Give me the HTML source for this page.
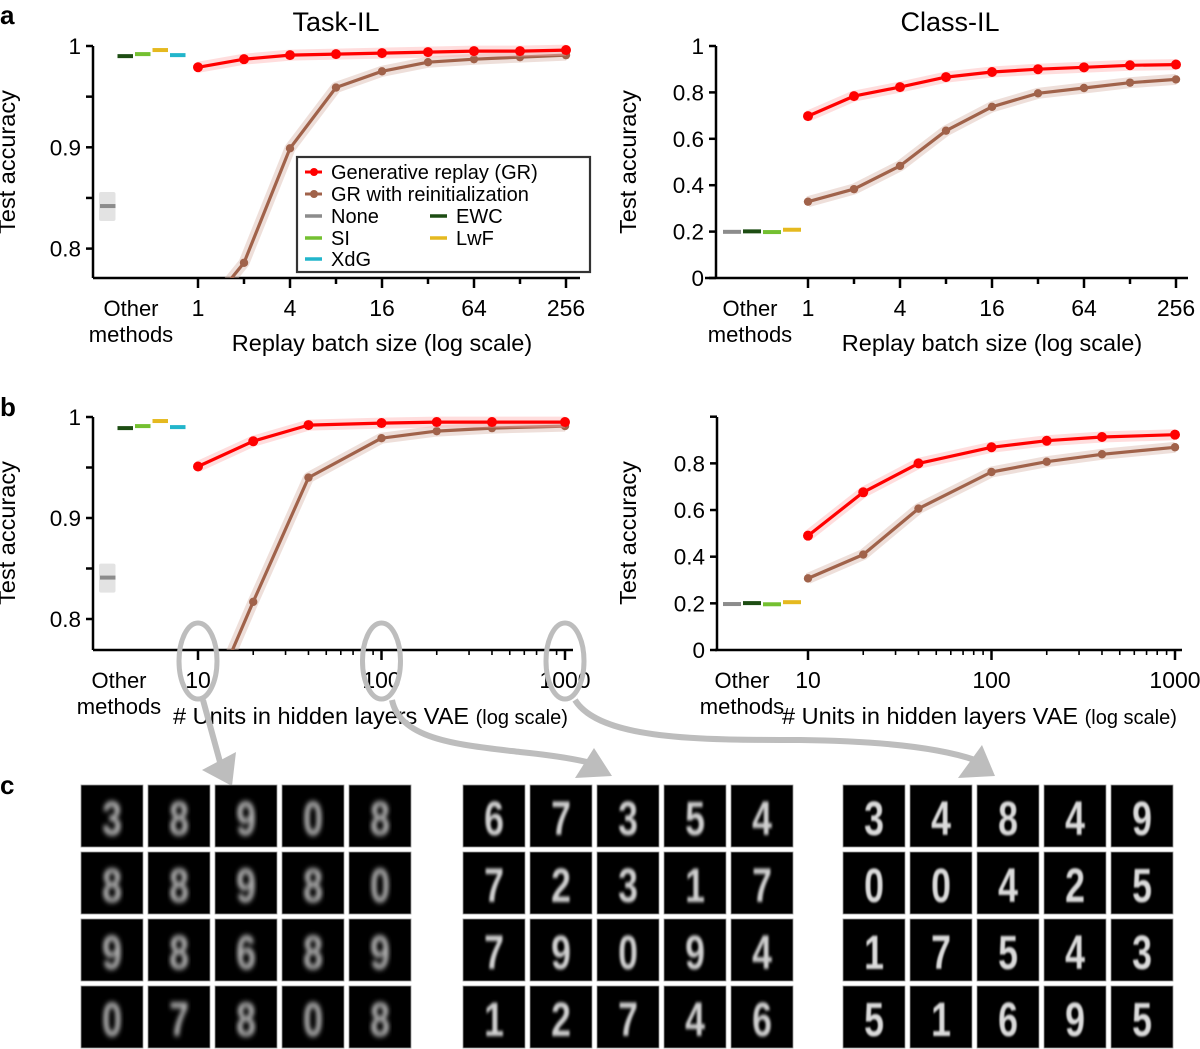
<!DOCTYPE html>
<html><head><meta charset="utf-8">
<style>
html,body{margin:0;padding:0;background:#fff;}
svg{display:block;font-family:"Liberation Sans",Arial,sans-serif;}
.digit{font-family:"Liberation Sans",sans-serif;fill:#e6e6e6;text-anchor:middle;}
</style></head>
<body>
<svg id="fig" width="1200" height="1049" viewBox="0 0 1200 1049" xmlns="http://www.w3.org/2000/svg">
<defs>
<clipPath id="clipAL"><rect x="93" y="0" width="500" height="278"/></clipPath>
<clipPath id="clipBL"><rect x="93" y="380" width="500" height="270"/></clipPath>
<filter id="blur1"><feGaussianBlur stdDeviation="2.4"/></filter>
<filter id="blur2"><feGaussianBlur stdDeviation="1.4"/></filter>
<filter id="blur3"><feGaussianBlur stdDeviation="1.0"/></filter>
</defs>
<g id="root"></g>
</svg>
<script>
// ---------- data ----------
const batchSizes = [1,2,4,8,16,32,64,128,256];
const unitCounts = [10,20,40,100,200,400,1000];
const taskGR = [0.979,0.987,0.991,0.992,0.993,0.994,0.995,0.995,0.996];
const taskGRreinit = [0.73,0.786,0.899,0.959,0.975,0.984,0.987,0.989,0.991];
const classGR = [0.698,0.784,0.823,0.866,0.888,0.90,0.908,0.917,0.92];
const classGRreinit = [0.329,0.383,0.483,0.635,0.738,0.796,0.819,0.842,0.856];
const taskUnitsGR = [0.951,0.976,0.992,0.994,0.995,0.995,0.995];
const taskUnitsReinit = [0.69,0.817,0.940,0.979,0.986,0.989,0.991];
const classUnitsGR = [0.49,0.676,0.80,0.869,0.897,0.913,0.923];
const classUnitsReinit = [0.307,0.409,0.606,0.763,0.807,0.839,0.869];
const otherNames = ["None","EWC","SI","LwF","XdG"];
const otherColors = ["#8c8c8c","#1d4d13","#74c031","#e5b91f","#22b5cb"];
const taskOtherA = [0.842,0.990,0.992,0.996,0.991];
const classOtherA = [0.199,0.201,0.198,0.208];
const taskOtherB = [0.841,0.989,0.991,0.996,0.990];
const classOtherB = [0.197,0.201,0.196,0.205];
const taskYTicks = [1,0.95,0.9,0.85,0.8];
const taskYLabels = ["1","","0.9","","0.8"];
const classYTicks = [0,0.2,0.4,0.6,0.8,1];
const classYLabelsA = ["0","0.2","0.4","0.6","0.8","1"];
const classYLabelsB = ["0","0.2","0.4","0.6","0.8",""];
const batchTickLabels = ["1","","4","","16","","64","","256"];
const unitTickValues = [10,100,1000];
const unitTickLabels = ["10","100","1000"];
const digitsG1 = ["3","8","9","0","8","8","8","9","8","0","9","8","6","8","9","0","7","8","0","8"];
const digitsG2 = ["6","7","3","5","4","7","2","3","1","7","7","9","0","9","4","1","2","7","4","6"];
const digitsG3 = ["3","4","8","4","9","0","0","4","2","5","1","7","5","4","3","5","1","6","9","5"];

// ---------- helpers ----------
const NS="http://www.w3.org/2000/svg";
const root=document.getElementById('root');
function mk(tag,attrs,parent,txt){const e=document.createElementNS(NS,tag);for(const k in attrs)e.setAttribute(k,attrs[k]);if(txt!==undefined)e.textContent=txt;(parent||root).appendChild(e);return e;}

const xA_L=v=>198+46*Math.log2(v);
const xA_R=v=>808+46*Math.log2(v);
const xB_L=v=>198+183.5*Math.log10(v/10);
const xB_R=v=>808+183.5*Math.log10(v/10);
const yA_L=v=>46+(1-v)*1013;
const yA_R=v=>278-v*232;
const yB_L=v=>417+(1-v)*1010;
const yB_R=v=>650-v*233.3;

function series(g,xs,ys,xf,yf,color,band,r,name,clip){
  const pts=xs.map((x,i)=>[xf(x),yf(ys[i])]);
  const d=pts.map((p,i)=>(i?'L':'M')+p[0].toFixed(1)+' '+p[1].toFixed(1)).join(' ');
  const sg=mk('g',clip?{'clip-path':'url(#'+clip+')'}:{},g);
  
  
  mk('path',{d:d,fill:'none',stroke:band,'stroke-width':11,'stroke-linejoin':'round','stroke-opacity':0.45},sg);
  mk('path',{d:d,fill:'none',stroke:color,'stroke-width':3.2,'stroke-linejoin':'round'},sg);
  pts.forEach(p=>{const c=mk('circle',{cx:p[0],cy:p[1],r:r,fill:color},sg);
    
    });
}

function others(g,vals,yf,x0,w,withBand){
  vals.forEach((v,i)=>{
    const x=x0+i*w;
    if(i===0&&withBand){const b=mk('rect',{x:x-1,y:yf(v)-14,width:w-1,height:29,fill:'#e3e3e3',rx:2},g);
      
      }
    const r=mk('rect',{x:x,y:yf(v)-2,width:w-2,height:4,fill:otherColors[i]},g);
    
    
  });
}

function yAxis(g,xSp,yTop,yBot,ticks,labels,yf,yTitleX,yTitleY){
  mk('line',{x1:xSp,y1:yTop,x2:xSp,y2:yBot,stroke:'#000','stroke-width':2.5},g);
  ticks.forEach((t,i)=>{
    mk('line',{x1:xSp-7,y1:yf(t),x2:xSp,y2:yf(t),stroke:'#000','stroke-width':2.5},g);
    if(labels[i]){const l=mk('text',{x:xSp-12,y:yf(t)+8,'font-size':22.5,'text-anchor':'end'},g,labels[i]);
      
      }
  });
  const t=mk('text',{x:yTitleX,y:yTitleY,'font-size':23.5,'text-anchor':'middle',transform:'rotate(-90 '+yTitleX+' '+yTitleY+')'},g,'Test accuracy');
  
  
}

function otherLabel(g,omX,yB){
  const om=mk('text',{x:omX,y:yB+38,'font-size':22,'text-anchor':'middle'},g);
  
  
  mk('tspan',{x:omX,dy:0},om,'Other');mk('tspan',{x:omX,dy:26},om,'methods');
}

function xAxisLog2(g,x0,x1,yB,xf,omX){
  mk('line',{x1:x0,y1:yB,x2:x1,y2:yB,stroke:'#000','stroke-width':2.5},g);
  batchSizes.forEach((v,i)=>{
    const major=batchTickLabels[i]!=="";
    mk('line',{x1:xf(v),y1:yB,x2:xf(v),y2:yB+(major?10:6),stroke:'#000','stroke-width':2.5},g);
    if(major){const l=mk('text',{x:xf(v),y:yB+38,'font-size':23,'text-anchor':'middle'},g,batchTickLabels[i]);
      
      }
  });
  otherLabel(g,omX,yB);
  const t=mk('text',{x:(xf(1)+xf(256))/2,y:yB+73,'font-size':23.5,'text-anchor':'middle'},g,'Replay batch size (log scale)');
  
  
}

function xAxisLog10(g,x0,x1,yB,xf,omX,titleX){
  mk('line',{x1:x0,y1:yB,x2:x1,y2:yB,stroke:'#000','stroke-width':2.5},g);
  [10,100].forEach(dec=>{for(let k=2;k<=9;k++){const v=dec*k;
    mk('line',{x1:xf(v),y1:yB,x2:xf(v),y2:yB+5,stroke:'#000','stroke-width':1.6},g);}});
  unitTickValues.forEach((v,i)=>{
    mk('line',{x1:xf(v),y1:yB,x2:xf(v),y2:yB+10,stroke:'#000','stroke-width':2.5},g);
    const l=mk('text',{x:xf(v),y:yB+38,'font-size':23,'text-anchor':'middle'},g,unitTickLabels[i]);
    
    
  });
  otherLabel(g,omX,yB);
  const t=mk('text',{x:titleX,y:yB+74,'font-size':23.5},g);
  
  
  mk('tspan',{},t,'# Units in hidden layers VAE ');
  mk('tspan',{'font-size':20},t,'(log scale)');
}

// ---------- panel a left ----------
let g=mk('g',{});


mk('text',{x:0,y:24,'font-size':26,'font-weight':'bold'},g,'a');
mk('text',{x:336,y:31,'font-size':27,'text-anchor':'middle'},g,'Task-IL');
yAxis(g,93,46,278,taskYTicks,taskYLabels,yA_L,15,162);
xAxisLog2(g,93,580,278,xA_L,131);
others(g,taskOtherA,yA_L,100,17.5,true);
series(g,batchSizes,taskGRreinit,xA_L,yA_L,'#a0624a','#d9b8ad',4.2,'gr-reinit-line','clipAL');
series(g,batchSizes,taskGR,xA_L,yA_L,'#ff0000','#ffb3b3',5,'gr-line','clipAL');
const lg=mk('g',{},g);


mk('rect',{x:297,y:157,width:293,height:115,fill:'#fff',stroke:'#333','stroke-width':2.2},lg);
const legItems=[[305,172,'#ff0000','Generative replay (GR)',true],[305,194,'#a0624a','GR with reinitialization',true],
 [305,216,'#8c8c8c','None',false],[305,238,'#74c031','SI',false],[305,259,'#22b5cb','XdG',false],
 [430,216,'#1d4d13','EWC',false],[430,238,'#e5b91f','LwF',false]];
legItems.forEach(it=>{
  const e=mk('g',{},lg);
  
  
  mk('line',{x1:it[0],y1:it[1],x2:it[0]+17,y2:it[1],stroke:it[2],'stroke-width':it[4]?3:3.5},e);
  if(it[4])mk('circle',{cx:it[0]+9,cy:it[1],r:4,fill:it[2]},e);
  mk('text',{x:it[0]+26,y:it[1]+7,'font-size':20},e,it[3]);
});

// ---------- panel a right ----------
g=mk('g',{});


mk('text',{x:950,y:31,'font-size':27,'text-anchor':'middle'},g,'Class-IL');
yAxis(g,716,46,278,classYTicks,classYLabelsA,yA_R,636,162);
xAxisLog2(g,705,1188,278,xA_R,750);
others(g,classOtherA,yA_R,723,20,false);
series(g,batchSizes,classGRreinit,xA_R,yA_R,'#a0624a','#d9b8ad',4.2,'gr-reinit-line');
series(g,batchSizes,classGR,xA_R,yA_R,'#ff0000','#ffb3b3',5,'gr-line');

// ---------- panel b left ----------
g=mk('g',{});


mk('text',{x:0,y:416,'font-size':26,'font-weight':'bold'},g,'b');
yAxis(g,93,417,650,taskYTicks,taskYLabels,yB_L,15,533);
xAxisLog10(g,93,573,650,xB_L,119,173);
others(g,taskOtherB,yB_L,100,17.5,true);
series(g,unitCounts,taskUnitsReinit,xB_L,yB_L,'#a0624a','#d9b8ad',4.2,'gr-reinit-line','clipBL');
series(g,unitCounts,taskUnitsGR,xB_L,yB_L,'#ff0000','#ffb3b3',5,'gr-line','clipBL');

// ---------- panel b right ----------
g=mk('g',{});


yAxis(g,717,417,650,classYTicks,classYLabelsB,yB_R,636,533);
xAxisLog10(g,715,1182,650,xB_R,742,782);
others(g,classOtherB,yB_R,723,20,false);
series(g,unitCounts,classUnitsReinit,xB_R,yB_R,'#a0624a','#d9b8ad',4.2,'gr-reinit-line');
series(g,unitCounts,classUnitsGR,xB_R,yB_R,'#ff0000','#ffb3b3',5,'gr-line');

// ---------- ellipses & arrows ----------
g=mk('g',{});


unitTickValues.forEach(v=>{
  const e=mk('ellipse',{cx:xB_L(v),cy:661,rx:19,ry:38,fill:'none',stroke:'#bdbdbd','stroke-width':5},g);
  
  
});
const arrows=[
 ['M203 700 L220 762',[232,786],[202,770],[236,752]],
 ['M392 700 C400 740 460 745 520 752 C560 756 580 760 595 764',[612,776],[575,778],[594,748]],
 ['M575 700 C600 740 700 740 800 740 C880 741 940 748 975 760',[995,776],[958,778],[982,745]]
];
arrows.forEach(a=>{
  mk('path',{d:a[0],fill:'none',stroke:'#bdbdbd','stroke-width':6},g);
  mk('polygon',{points:a[1].join(',')+' '+a[2].join(',')+' '+a[3].join(','),fill:'#bdbdbd'},g);
});

// ---------- panel c ----------
g=mk('g',{});


mk('text',{x:0,y:794,'font-size':26,'font-weight':'bold'},g,'c');
const grids=[[81,digitsG1,'blur1',0.8],[463,digitsG2,'blur2',0.9],[843,digitsG3,'blur3',0.95]];
grids.forEach((gr,gi)=>{
  const gg=mk('g',{},g);
  
  
  gr[1].forEach((d,i)=>{
    const c=i%5,r=Math.floor(i/5);
    const x=gr[0]+c*67,y=785+r*67;
    mk('rect',{x:x,y:y,width:62,height:62,fill:'#000',stroke:'#999','stroke-width':0.8},gg);
    const t=mk('text',{x:0,y:0,'font-size':42,class:'digit',filter:'url(#'+gr[2]+')','fill-opacity':gr[3],'font-weight':'bold',
      transform:'translate('+(x+31)+' '+(y+50)+') scale(0.85 1.15)'},gg,d);
    
    
  });
});
</script>
</body></html>
